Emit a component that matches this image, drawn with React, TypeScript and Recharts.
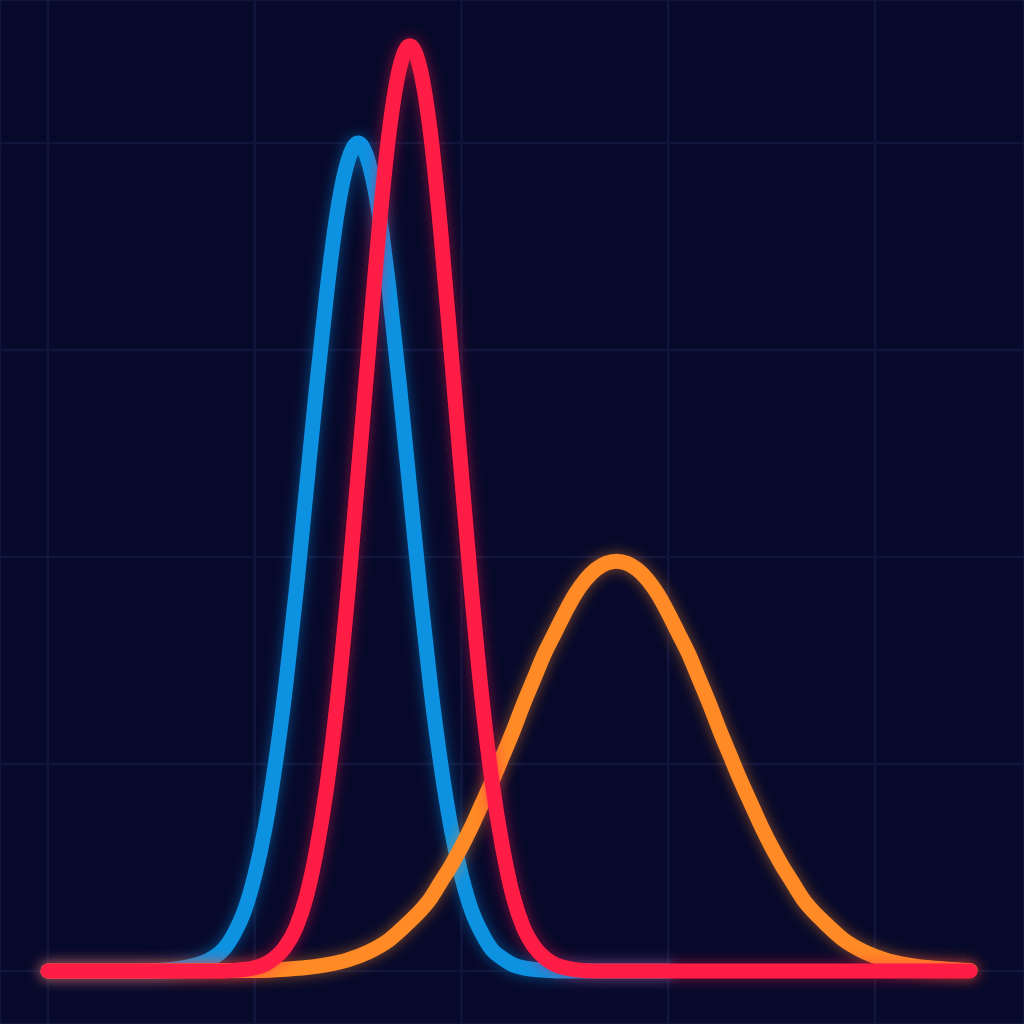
import React from "react";
import { LineChart, Line, XAxis, YAxis, CartesianGrid } from "recharts";

// three bell curves (x in grid units, y in grid units)
const blueX = [0, 0.5, 0.55, 0.6, 0.65, 0.7, 0.75, 0.8, 0.85, 0.9, 0.95, 1.0, 1.05, 1.1, 1.15, 1.2, 1.25, 1.3, 1.35, 1.4, 1.45, 1.5, 1.55, 1.6, 1.65, 1.7, 1.75, 1.8, 1.85, 1.9, 1.95, 2.0, 2.05, 2.1, 2.15, 2.2, 2.25, 2.3, 2.35, 2.4, 2.5, 3.0];
const blueY = [0, 0, 0.004, 0.008, 0.015, 0.025, 0.04, 0.065, 0.105, 0.18, 0.29, 0.46, 0.69, 1.0, 1.38, 1.83, 2.33, 2.83, 3.29, 3.67, 3.91, 4.0, 3.91, 3.67, 3.29, 2.83, 2.33, 1.83, 1.38, 1.0, 0.69, 0.46, 0.29, 0.18, 0.1, 0.06, 0.03, 0.015, 0.008, 0.004, 0, 0];

const orangeX = [0, 1.0, 1.15, 1.25, 1.35, 1.45, 1.55, 1.65, 1.75, 1.8, 1.85, 1.9, 1.95, 2.0, 2.05, 2.1, 2.15, 2.2, 2.25, 2.3, 2.35, 2.4, 2.45, 2.5, 2.55, 2.6, 2.65, 2.7, 2.75, 2.8, 2.85, 2.9, 2.95, 3.0, 3.05, 3.1, 3.15, 3.2, 3.25, 3.3, 3.35, 3.4, 3.45, 3.5, 3.55, 3.6, 3.65, 3.7, 3.75, 3.85, 3.95, 4.05, 4.15, 4.25, 4.35, 4.46];
const orangeY = [0, 0.003, 0.009, 0.017, 0.031, 0.054, 0.092, 0.15, 0.24, 0.29, 0.35, 0.43, 0.51, 0.6, 0.7, 0.81, 0.92, 1.04, 1.16, 1.29, 1.41, 1.53, 1.63, 1.73, 1.82, 1.89, 1.94, 1.97, 1.98, 1.97, 1.94, 1.89, 1.82, 1.73, 1.63, 1.53, 1.41, 1.29, 1.16, 1.04, 0.92, 0.81, 0.7, 0.6, 0.51, 0.43, 0.35, 0.29, 0.24, 0.15, 0.092, 0.054, 0.031, 0.017, 0.009, 0.003];

const redX = [0, 0.85, 0.9, 0.95, 1.0, 1.05, 1.1, 1.15, 1.2, 1.25, 1.3, 1.35, 1.4, 1.45, 1.5, 1.55, 1.6, 1.65, 1.7, 1.75, 1.8, 1.85, 1.9, 1.95, 2.0, 2.05, 2.1, 2.15, 2.2, 2.25, 2.3, 2.35, 2.4, 2.45, 2.5, 2.55, 2.65, 4.46];
const redY = [0, 0, 0.003, 0.007, 0.016, 0.033, 0.066, 0.12, 0.21, 0.36, 0.59, 0.9, 1.31, 1.82, 2.4, 2.99, 3.57, 4.05, 4.36, 4.47, 4.36, 4.05, 3.57, 2.99, 2.4, 1.82, 1.31, 0.9, 0.59, 0.36, 0.21, 0.12, 0.066, 0.033, 0.016, 0.007, 0, 0];

const gridTicks = [0, 1, 2, 3, 4];

const toPoints = (xs: number[], ys: number[]) => xs.map((x, i) => ({ x, y: ys[i] }));

const blueData = toPoints(blueX, blueY);
const orangeData = toPoints(orangeX, orangeY);
const redData = toPoints(redX, redY);

const BG = "#07092a";

export default function App() {
  return (
    <div style={{ position: "absolute", left: 0, top: 0, width: 1024, height: 1024, background: BG }}>
      <LineChart width={1024} height={1024} margin={{ top: 0, right: 0, bottom: 0, left: 0 }}>
        <defs>
          <filter id="glow" filterUnits="userSpaceOnUse" x="0" y="0" width="1024" height="1024">
            <feGaussianBlur in="SourceGraphic" stdDeviation="7" result="blur" />
            <feComponentTransfer in="blur" result="soft">
              <feFuncA type="linear" slope="0.5" />
            </feComponentTransfer>
            <feMerge>
              <feMergeNode in="soft" />
              <feMergeNode in="SourceGraphic" />
            </feMerge>
          </filter>
        </defs>
        <CartesianGrid stroke="#10153c" strokeWidth={2.5} />
        <XAxis
          dataKey="x"
          type="number"
          domain={[-0.232, 4.721]}
          ticks={gridTicks}
          allowDataOverflow
          hide
        />
        <YAxis
          type="number"
          domain={[-0.256, 4.691]}
          ticks={gridTicks}
          allowDataOverflow
          hide
        />
        <Line
          data={blueData}
          dataKey="y"
          type="monotone"
          stroke="#0b92e2"
          strokeWidth={15}
          strokeLinecap="round"
          strokeLinejoin="round"
          dot={false}
          activeDot={false}
          filter="url(#glow)"
          isAnimationActive={false}
        />
        <Line
          data={orangeData}
          dataKey="y"
          type="monotone"
          stroke="#ff8a26"
          strokeWidth={15}
          strokeLinecap="round"
          strokeLinejoin="round"
          dot={false}
          activeDot={false}
          filter="url(#glow)"
          isAnimationActive={false}
        />
        <Line
          data={redData}
          dataKey="y"
          type="monotone"
          stroke="#ff1f45"
          strokeWidth={15}
          strokeLinecap="round"
          strokeLinejoin="round"
          dot={false}
          activeDot={false}
          filter="url(#glow)"
          isAnimationActive={false}
        />
      </LineChart>
    </div>
  );
}
